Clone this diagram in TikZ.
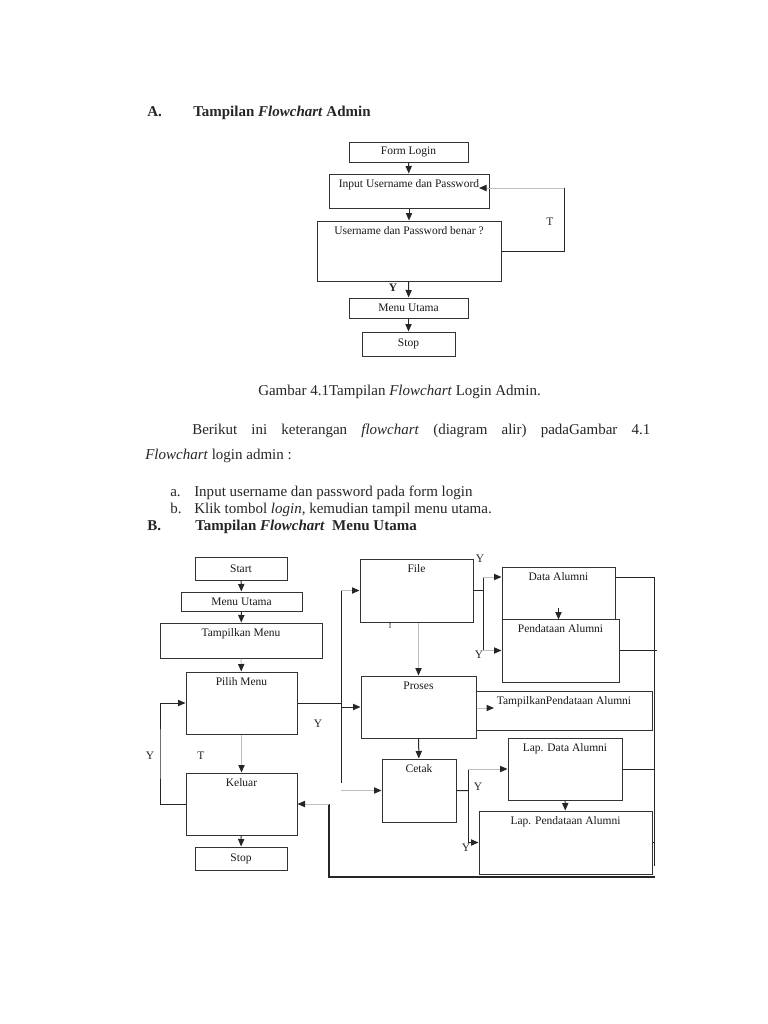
\documentclass[tikz,border=0pt]{standalone}
\usepackage{fontspec}
\setmainfont{Liberation Serif}
\usetikzlibrary{arrows.meta,fit}

\begin{document}
\begin{tikzpicture}[x=0.796875bp, y=-0.796875bp,
    >={Triangle[length=6pt,width=5pt,color=black!85]},
    box/.style={draw=black!80, line width=0.8pt, inner sep=0pt, text=black!90,
                font=\fontsize{9.2}{11}\selectfont},
    boxlabel/.style={anchor=north, inner sep=5pt, text=black!90,
                font=\fontsize{9.2}{11}\selectfont},
    midlabel/.style={boxlabel, anchor=center, inner sep=0pt},
    conn/.style={draw=black!85, line width=0.8pt},
    faint/.style={draw=black!25, line width=0.8pt},
    flag/.style={inner sep=0pt, text=black!85, font=\fontsize{9.2}{11}\selectfont},
    txt/.style={anchor=base west, inner sep=0pt, text=black!85,
                font=\fontsize{12}{14}\selectfont},
    head/.style={txt, font=\fontsize{12}{14}\selectfont\bfseries}]
    % halaman
    \fill[white] (0,0) rectangle (768,1024);
    \useasboundingbox (0,0) rectangle (768,1024);
    % judul A
    \node[head] (hA)  at (147,116) {A.};
    \node[head] (hAt) at (193,116) {Tampilan \emph{Flowchart} Admin};
    % flowchart login admin
    \node[box, fit={(349,142) (468,162)},
          label={[midlabel]center:Form Login}] (formlogin) {};
    \node[box, fit={(329,174) (489,208)},
          label={[boxlabel]north:Input Username dan Password}] (inputup) {};
    \node[box, fit={(317,221) (501,281)},
          label={[boxlabel]north:Username dan Password benar ?}] (cekbenar) {};
    \node[box, fit={(349,298) (468,318)},
          label={[midlabel]center:Menu Utama}] (menuutama) {};
    \node[box, fit={(362,332) (455,356)},
          label={[midlabel]center:Stop}] (stopa) {};
    \draw[conn, ->] (formlogin) -- (inputup);
    \draw[conn, ->] (inputup) -- (cekbenar);
    \draw[conn, ->] (cekbenar) -- (menuutama);
    \draw[conn, ->] (menuutama) -- (stopa);
    % T kembali ke input
    \coordinate (tcorner) at (564,188);
    \coordinate (tend)    at (479,188);
    \draw[conn] (cekbenar.east) -| (tcorner);
    \draw[faint, ->] (tcorner) -- (tend);
    \node[flag] (ta) at (550,222) {T};
    \node[flag, font=\fontsize{9.2}{11}\selectfont\bfseries] (ya) at (393,288) {Y};
    % keterangan
    \node[txt] (cap) at (258,395) {Gambar 4.1Tampilan \emph{Flowchart} Login Admin.};
    \node[txt] (par1) at (192,434)
         {\makebox[365bp][s]{Berikut ini keterangan \emph{flowchart} (diagram alir) padaGambar 4.1}};
    \node[txt] (par2) at (145,459) {\emph{Flowchart} login admin :};
    \node[txt] (la)  at (170,496) {a.};
    \node[txt] (lat) at (194,496) {Input username dan password pada form login};
    \node[txt] (lb)  at (170,513) {b.};
    \node[txt] (lbt) at (194,513) {Klik tombol \emph{login}, kemudian tampil menu utama.};
    % judul B
    \node[head] (hB)  at (147,530) {B.};
    \node[head] (hBt) at (195,530) {Tampilan \emph{Flowchart}\ \ Menu Utama};
    % flowchart menu utama, kolom kiri
    \node[box, fit={(195,557) (287,580)},
          label={[midlabel]center:Start}] (start) {};
    \node[box, fit={(181,592) (302,611)},
          label={[midlabel]center:Menu Utama}] (menuutamab) {};
    \node[box, fit={(160,623) (322,658)},
          label={[boxlabel]north:Tampilkan Menu}] (tampilmenu) {};
    \node[box, fit={(186,672) (297,734)},
          label={[boxlabel]north:Pilih Menu}] (pilihmenu) {};
    \node[box, fit={(186,773) (297,835)},
          label={[boxlabel]north:Keluar}] (keluar) {};
    \node[box, fit={(195,847) (287,870)},
          label={[midlabel]center:Stop}] (stopb) {};
    \draw[conn, ->] (start) -- (menuutamab);
    \draw[conn, ->] (menuutamab) -- (tampilmenu);
    \draw[faint, ->] (tampilmenu) -- (pilihmenu);
    \draw[faint, ->] (pilihmenu) -- (keluar);
    \draw[conn, ->] (keluar) -- (stopb);
    % Y kiri
    \coordinate (yleft) at (160,754);
    \draw[conn, ->] (keluar.west) -| (yleft) |- (pilihmenu.west);
    \node[flag] (yb1) at (150,756) {Y};
    \node[flag] (tb1) at (201,756) {T};
    % kolom tengah
    \node[box, fit={(360,559) (473,622)},
          label={[boxlabel]north:File}] (file) {};
    \node[box, fit={(361,676) (476,738)},
          label={[boxlabel]north:Proses}] (proses) {};
    \node[box, fit={(382,759) (456,822)},
          label={[boxlabel]north:Cetak}] (cetak) {};
    \coordinate (bus) at (341,783);
    \draw[conn] (pilihmenu.east) -- (pilihmenu.east -| bus);
    \draw[conn] (bus |- file.west) -- (bus);
    \draw[faint, ->] (bus |- file.west) -- (file.west);
    \draw[conn, ->] (bus |- proses.west) -- (proses.west);
    \draw[faint, ->] (bus |- cetak.west) -- (cetak.west);
    \node[flag] (yb2) at (318,724) {Y};
    \draw[faint, ->] (proses.north |- file.south) -- (proses.north);
    \node[flag, font=\fontsize{6}{7}\selectfont] (tf) at (390,626) {I};
    \draw[conn, ->] (proses) -- (cetak);
    % kolom kanan
    \node[box, fit={(502,567) (615,619)},
          label={[boxlabel]north:Data Alumni}] (dataalumni) {};
    \node[box, fit={(502,619) (619,682)},
          label={[boxlabel]north:Pendataan Alumni}] (pendataan) {};
    \node[box, fit={(476,691) (652,730)},
          label={[boxlabel]north:TampilkanPendataan Alumni}] (tampilpendataan) {};
    \node[box, fit={(508,738) (622,800)},
          label={[boxlabel]north:Lap. Data Alumni}] (lapdata) {};
    \node[box, fit={(479,811) (652,874)},
          label={[boxlabel]north:Lap. Pendataan Alumni}] (lappendataan) {};
    % cabang file
    \coordinate (fbr) at (483,577);
    \draw[conn] (file.east) -- (file.east -| fbr);
    \draw[conn] (fbr) -- (fbr |- pendataan.west);
    \draw[faint, ->] (fbr) -- (fbr -| dataalumni.west);
    \draw[faint, ->] (fbr |- pendataan.west) -- (pendataan.west);
    \draw[conn, ->] ([yshift=9pt]dataalumni.south) -- (dataalumni.south);
    \node[flag] (yf1) at (480,559) {Y};
    \node[flag] (yf2) at (479,655) {Y};
    % proses ke tampilan pendataan
    \coordinate (tpdtip) at (494,708);
    \draw[faint, ->] (proses.east |- tpdtip) -- (tpdtip);
    % cabang cetak
    \coordinate (cbr) at (468,790.5);
    \draw[conn] (cetak.east) -- (cbr);
    \draw[conn] (cbr |- lapdata.west) -- (cbr |- lappendataan.west);
    \draw[faint, ->] (cbr |- lapdata.west) -- (lapdata.west);
    \draw[conn, ->] (cbr |- lappendataan.west) -- (lappendataan.west);
    \draw[conn, ->] (lapdata) -- (lappendataan);
    \node[flag] (yc1) at (478,787) {Y};
    \node[flag] (yc2) at (466,848) {Y};
    % garis kanan
    \coordinate (rbtop) at (654,577);
    \coordinate (rbbot) at (654,866);
    \draw[conn] (dataalumni.east |- rbtop) -- (rbtop) -- (rbbot);
    \draw[conn] (pendataan.east) -- ([xshift=2pt]pendataan.east -| rbtop);
    \draw[conn] (lapdata.east) -- (lapdata.east -| rbtop);
    \draw[conn] (lappendataan.east) -- (lappendataan.east -| rbtop);
    % kembali ke keluar
    \coordinate (retright) at (655,877);
    \coordinate (retleft)  at (329,877);
    \draw[conn, line width=1.2pt] (retright) -- (retleft) -- (retleft |- keluar.east);
    \draw[faint, ->] (retleft |- keluar.east) -- (keluar.east);
\end{tikzpicture}
\end{document}
